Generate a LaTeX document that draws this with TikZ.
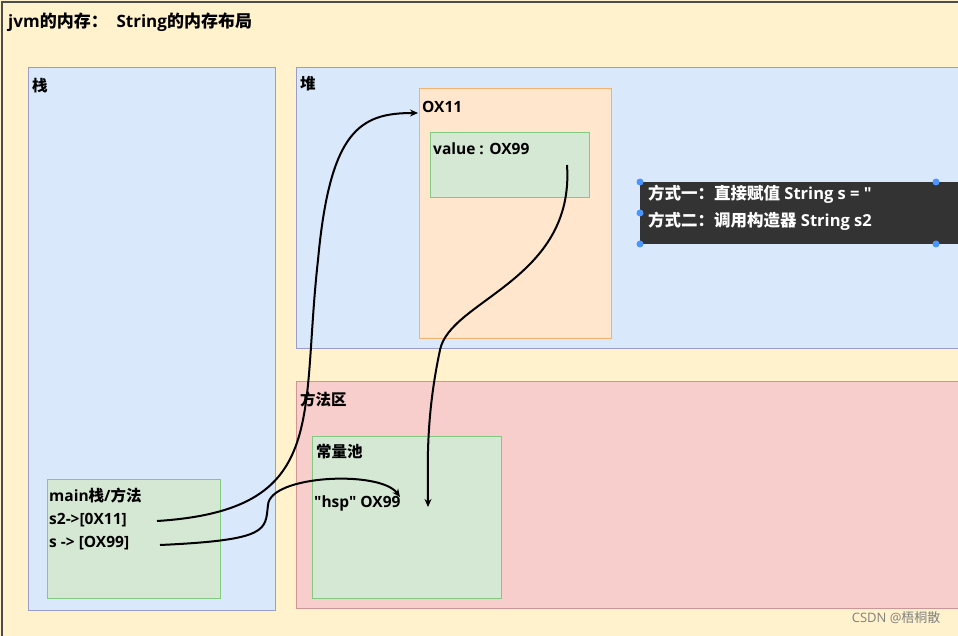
\documentclass[tikz,border=0pt]{standalone}
\usepackage{fontspec}
\defaultfontfeatures[\rmfamily]{}
\defaultfontfeatures{}
\setmainfont{Open Sans}
\newfontfamily\cjk{Noto Sans CJK SC}
\tikzset{
 lbl/.style={anchor=north west, font=\bfseries\fontsize{15.5}{17}\selectfont, inner sep=0pt, align=left},
 arr/.style={-{Stealth[length=8pt,width=7pt]}, line width=2pt, black},
}
\usetikzlibrary{arrows.meta}
\definecolor{cream}{HTML}{FFF2CC}
\definecolor{lblue}{HTML}{DAE8FC}
\definecolor{lorange}{HTML}{FFE6CC}
\definecolor{lgreen}{HTML}{D5E8D4}
\definecolor{lpink}{HTML}{F8CECC}
\begin{document}
\begin{tikzpicture}[x=1pt,y=-1pt]
\useasboundingbox (0,0) rectangle (958,636);
\fill[cream] (0,0) rectangle (958,636);
\draw[line width=1.5pt, black!70] (2,636) -- (2,2) -- (958,2);
\node[lbl, font=\bfseries\fontsize{17}{19}\selectfont] (title) at (8,13) {jvm{\cjk 的内存：} \ String{\cjk 的内存布局}};
% stack
\node[draw=blue!30!gray!60, fill=lblue, minimum width=247pt, minimum height=543pt, anchor=north west, inner sep=0pt] (stack) at (28,67) {};
\node[lbl] (stackl) at (32,78) {\cjk 栈};
% heap
\node[draw=blue!30!gray!60, fill=lblue, minimum width=670pt, minimum height=281pt, anchor=north west, inner sep=0pt] (heap) at (296,67) {};
\node[lbl] (heapl) at (300,76) {\cjk 堆};
\node[draw=orange!70!brown!60, fill=lorange, minimum width=192pt, minimum height=250pt, anchor=north west, inner sep=0pt] (obj) at (419,88) {};
\node[lbl] (objl) at (422,101) {OX11};
\node[draw=green!40!gray!70, fill=lgreen, minimum width=159pt, minimum height=65pt, anchor=north west, inner sep=0pt] (val) at (430,132) {};
\node[lbl] (vall) at (433,143) {value : OX99};
% method area
\node[draw=red!40!gray!60, fill=lpink, minimum width=670pt, minimum height=227pt, anchor=north west, inner sep=0pt] (meth) at (296,381) {};
\node[lbl] (methl) at (300,392) {\cjk 方法区};
\node[draw=green!40!gray!70, fill=lgreen, minimum width=189pt, minimum height=162pt, anchor=north west, inner sep=0pt] (pool) at (312,436) {};
\node[lbl] (pooll) at (316,444) {\cjk 常量池};
\node[lbl] (hsp) at (314,496) {"hsp" OX99};
% main
\node[draw=green!40!gray!70, fill=lgreen, minimum width=173pt, minimum height=119pt, anchor=north west, inner sep=0pt] (main) at (47,479) {};
\node[lbl, font=\bfseries\fontsize{15.5}{23}\selectfont] (mainl) at (49,488) {main{\cjk 栈}/{\cjk 方法}\\s2->[0X11]\\s -> [OX99]};
% tooltip
\node[fill=black!80, minimum width=318pt, minimum height=62pt, anchor=north west, inner sep=0pt] (tip) at (640,182) {};
\begin{scope}
\clip (640,182) rectangle (958,244);
\node[lbl, text=white, font=\bfseries\fontsize{16.5}{27}\selectfont] (tipt) at (648,185) {{\cjk 方式一：直接赋值} String s = "\\{\cjk 方式二：调用构造器} String s2};
\end{scope}
\foreach \p in {(640,182),(640,244),(936,182),(936,244),(640,213)}
  \fill[blue!60!cyan!70] \p circle (3.5pt);
% watermark
\node[anchor=east, text=black!50, font=\fontsize{13}{15}\selectfont] (wm) at (944,618) {CSDN @{\cjk 梧桐散}};
% arrows
\coordinate (s2e) at (157,521);
\coordinate (se) at (160,545);
\coordinate (objin) at (418,113);
\coordinate (hspin) at (400,497);
\coordinate (vst) at (567,165);
\coordinate (vend) at (428,507);
\draw[arr] (s2e) .. controls (330,510) and (300,420) .. (318,260) .. controls (330,130) and (360,113) .. (objin);
\draw[arr] (se) .. controls (270,540) and (265,530) .. (268,505) .. controls (270,475) and (380,470) .. (hspin);
\draw[arr] (vst) .. controls (575,280) and (450,300) .. (440,350) .. controls (425,420) and (428,470) .. (vend);
\end{tikzpicture}
\end{document}
